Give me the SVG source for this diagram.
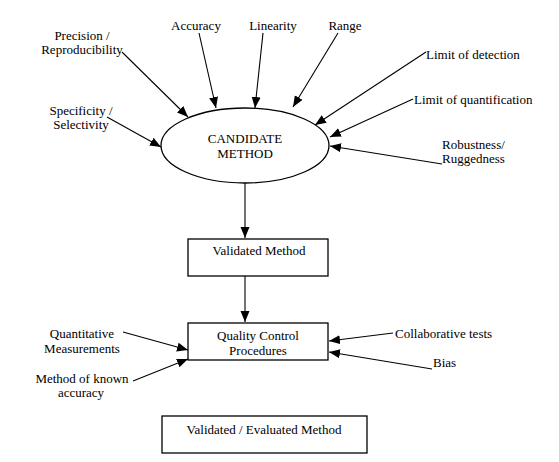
<svg xmlns="http://www.w3.org/2000/svg" width="559" height="462" viewBox="0 0 559 462">
<style>
text{font-family:'Liberation Serif','Times New Roman','DejaVu Serif',serif;font-size:13px;fill:#000}
.c{text-anchor:middle}
.shape{fill:#fff;stroke:#000;stroke-width:1.3}
#connectors line{stroke:#000;stroke-width:1.1;marker-end:url(#ah)}
</style>
<defs>
<marker id="ah" markerUnits="userSpaceOnUse" markerWidth="12" markerHeight="10" refX="11" refY="4.5" orient="auto">
<path d="M0,0 L11,4.5 L0,9 z" fill="#000"/>
</marker>
</defs>
<rect width="559" height="462" fill="#fff"/>
<g id="connectors">
<line x1="122" y1="52" x2="188" y2="117"/>
<line x1="199" y1="33" x2="216" y2="108"/>
<line x1="263" y1="33" x2="255" y2="108"/>
<line x1="338" y1="33" x2="293" y2="107"/>
<line x1="426" y1="52" x2="315" y2="125"/>
<line x1="413" y1="99" x2="330" y2="137"/>
<line x1="442" y1="164" x2="330" y2="146"/>
<line x1="107" y1="117" x2="161" y2="147"/>
<line x1="245" y1="183" x2="245" y2="238"/>
<line x1="245" y1="276" x2="245" y2="322"/>
<line x1="123" y1="332" x2="188" y2="350"/>
<line x1="133" y1="381" x2="188" y2="359"/>
<line x1="393" y1="333" x2="329" y2="341"/>
<line x1="432" y1="369" x2="329" y2="352"/>
</g>
<g id="candidate">
<ellipse class="shape" cx="245" cy="145.5" rx="84" ry="37.5"/>
<text class="c" x="245" y="143">CANDIDATE</text>
<text class="c" x="245" y="158">METHOD</text>
</g>
<g id="validated">
<rect class="shape" x="188" y="239" width="140" height="37"/>
<text class="c" x="259" y="255">Validated Method</text>
</g>
<g id="qc">
<rect class="shape" x="188" y="323" width="140" height="37"/>
<text class="c" x="258" y="340">Quality Control</text>
<text class="c" x="258" y="355">Procedures</text>
</g>
<g id="final">
<rect class="shape" x="162" y="416" width="205" height="37"/>
<text class="c" x="264" y="434">Validated / Evaluated Method</text>
</g>
<g id="precision"><text class="c" x="82" y="40">Precision /</text><text class="c" x="82" y="54">Reproducibility</text></g>
<g id="accuracy"><text class="c" x="196" y="30">Accuracy</text></g>
<g id="linearity"><text class="c" x="273" y="30">Linearity</text></g>
<g id="range"><text class="c" x="345" y="30">Range</text></g>
<g id="lod"><text x="426" y="59">Limit of detection</text></g>
<g id="loq"><text x="414" y="104">Limit of quantification</text></g>
<g id="robust"><text x="442" y="149">Robustness/</text><text x="442" y="163">Ruggedness</text></g>
<g id="specificity"><text class="c" x="81" y="115">Specificity /</text><text class="c" x="81" y="129">Selectivity</text></g>
<g id="quant"><text class="c" x="82" y="338">Quantitative</text><text class="c" x="82" y="353">Measurements</text></g>
<g id="known"><text class="c" x="82" y="383">Method of known</text><text class="c" x="81" y="397">accuracy</text></g>
<g id="collab"><text x="395" y="338">Collaborative tests</text></g>
<g id="bias"><text x="433" y="367">Bias</text></g>
</svg>
